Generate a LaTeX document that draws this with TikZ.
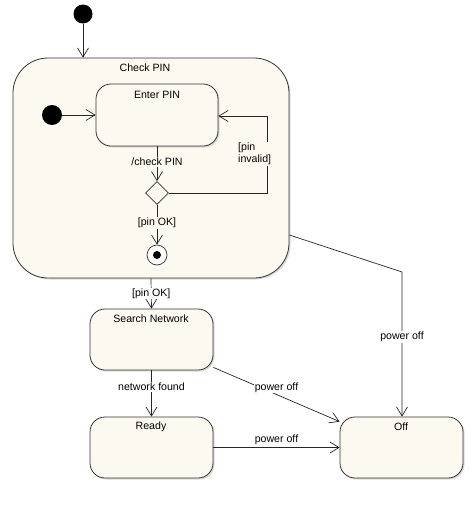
\documentclass[tikz,border=0pt]{standalone}
\usepackage{fontspec}
\setmainfont{Liberation Sans}
\usetikzlibrary{arrows.meta,shapes.geometric,shadows}
\definecolor{statefill}{RGB}{252,249,240}
\begin{document}
\begin{tikzpicture}[x=1pt,y=-1pt,font=\fontsize{10.6}{12}\selectfont]
\tikzstyle{every node}=[inner sep=1pt]
\tikzstyle{state}=[draw=black!80,fill=statefill,line width=0.8pt,rounded corners=15pt,drop shadow={shadow xshift=1.5pt,shadow yshift=-1.5pt,fill=black!30}]
\tikzstyle{trans}=[draw=black!85,line width=0.7pt,-{Straight Barb[length=9pt,width=11pt]}]
\tikzstyle{dot}=[circle,fill=black,minimum size=19pt,inner sep=0pt]
\tikzstyle{lbl}=[fill=white]
\tikzstyle{lblin}=[fill=statefill]
\useasboundingbox (0,0) rectangle (474,512);
\node[state,rounded corners=35pt,minimum width=276pt,minimum height=220pt](checkpin) at (151,168) {};
\node(checkpintxt) at (145,68) {Check PIN};
\node[state,minimum width=122pt,minimum height=62pt](enterpin) at (157,115) {};
\node(enterpintxt) at (157,95) {Enter PIN};
\node[state,minimum width=123pt,minimum height=61pt](search) at (151.5,339.5) {};
\node(searchtxt) at (151,319) {Search Network};
\node[state,minimum width=123pt,minimum height=61pt](ready) at (151.5,447.5) {};
\node(readytxt) at (151,427) {Ready};
\node[state,minimum width=123pt,minimum height=61pt](off) at (401.5,447.5) {};
\node(offtxt) at (401,427) {Off};
\node[dot](start) at (83,14) {};
\node[dot,minimum size=20pt](startin) at (52,115) {};
\node[diamond,draw=black!80,fill=statefill,line width=0.7pt,minimum size=23pt,inner sep=0pt](choice) at (157,193) {};
\node[circle,draw=black!80,fill=white,line width=0.7pt,minimum size=20pt,inner sep=0pt](final) at (157,255) {};
\fill (final) circle (4pt);
\coordinate(loop) at (267,116);
\coordinate(bend) at (402,272);
\draw[trans] (start) -- (start |- checkpin.north);
\draw[trans] (startin) -- (enterpin.west);
\draw[trans] (enterpin.south) -- (choice.north) node[lblin,pos=0.45]{/check PIN};
\draw[trans] (choice.east) -| (loop) -- (enterpin.east |- loop);
\node[lblin,align=left,anchor=west](invalid) at (237,154) {[pin\\invalid]};
\draw[trans] (choice.south) -- (final.north) node[lblin,pos=0.45]{[pin OK]};
\draw[trans] (checkpin.south) -- (search.north) node[lbl,midway]{[pin OK]};
\draw[trans] (search.south) -- (ready.north) node[lbl,pos=0.36]{network found};
\draw[trans] ([yshift=3pt]search.south east) -- ([yshift=-5pt]off.north west) node[lbl,pos=0.5,yshift=7pt]{power off};
\draw[trans] (ready.east) -- (off.west) node[above,midway,yshift=1pt]{power off};
\draw[trans] ([yshift=-67pt]checkpin.east) -- (bend) -- (off.north -| bend) node[lbl,pos=0.45]{power off};
\end{tikzpicture}
\end{document}
